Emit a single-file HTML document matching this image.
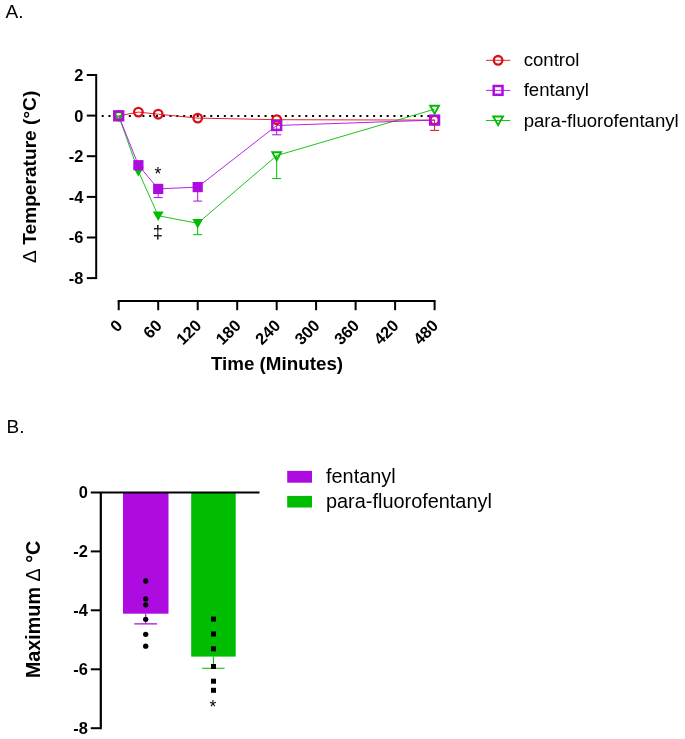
<!DOCTYPE html>
<html lang="en"><head><meta charset="utf-8"><title>Figure</title>
<style>html,body{margin:0;padding:0;background:#fff}body{width:685px;height:739px;overflow:hidden}svg{display:block;filter:blur(0.4px)}text{font-family:"Liberation Sans",Arial,sans-serif;fill:#000}.b{font-weight:bold}</style></head><body>
<svg width="685" height="739" viewBox="0 0 685 739">
<rect width="685" height="739" fill="#fff"/>
<text x="5.5" y="18.2" font-size="19">A.</text>
<text x="6.5" y="432.8" font-size="19">B.</text>
<g stroke="#000" stroke-width="2" fill="none" stroke-linecap="butt">
<path d="M96.2 74.0V279.1"/>
<path d="M86.8 75.0H96.2"/>
<path d="M86.8 115.6H96.2"/>
<path d="M86.8 156.2H96.2"/>
<path d="M86.8 196.9H96.2"/>
<path d="M86.8 237.5H96.2"/>
<path d="M86.8 278.1H96.2"/>
<path d="M117.7 301H435.6"/>
<path d="M118.7 301V310.2"/>
<path d="M158.2 301V310.2"/>
<path d="M197.7 301V310.2"/>
<path d="M237.2 301V310.2"/>
<path d="M276.7 301V310.2"/>
<path d="M316.1 301V310.2"/>
<path d="M355.6 301V310.2"/>
<path d="M395.1 301V310.2"/>
<path d="M434.6 301V310.2"/>
</g>
<text class="b" x="83.3" y="80.9" font-size="16.4" text-anchor="end">2</text>
<text class="b" x="83.3" y="121.5" font-size="16.4" text-anchor="end">0</text>
<text class="b" x="83.3" y="162.1" font-size="16.4" text-anchor="end">-2</text>
<text class="b" x="83.3" y="202.8" font-size="16.4" text-anchor="end">-4</text>
<text class="b" x="83.3" y="243.4" font-size="16.4" text-anchor="end">-6</text>
<text class="b" x="83.3" y="284.0" font-size="16.4" text-anchor="end">-8</text>
<text class="b" font-size="16.4" text-anchor="end" transform="translate(123.4 326.5) rotate(-45)">0</text>
<text class="b" font-size="16.4" text-anchor="end" transform="translate(162.9 326.5) rotate(-45)">60</text>
<text class="b" font-size="16.4" text-anchor="end" transform="translate(202.4 326.5) rotate(-45)">120</text>
<text class="b" font-size="16.4" text-anchor="end" transform="translate(241.9 326.5) rotate(-45)">180</text>
<text class="b" font-size="16.4" text-anchor="end" transform="translate(281.4 326.5) rotate(-45)">240</text>
<text class="b" font-size="16.4" text-anchor="end" transform="translate(320.8 326.5) rotate(-45)">300</text>
<text class="b" font-size="16.4" text-anchor="end" transform="translate(360.3 326.5) rotate(-45)">360</text>
<text class="b" font-size="16.4" text-anchor="end" transform="translate(399.8 326.5) rotate(-45)">420</text>
<text class="b" font-size="16.4" text-anchor="end" transform="translate(439.3 326.5) rotate(-45)">480</text>
<text class="b" font-size="18.8" text-anchor="middle" x="277" y="370.4">Time (Minutes)</text>
<text class="b" font-size="19.15" text-anchor="middle" transform="translate(36.2 176.8) rotate(-90)"><tspan font-weight="normal">Δ</tspan> Temperature (°C)</text>
<path d="M101.7 115.9H430" stroke="#000" stroke-width="2" stroke-dasharray="2 4.785" fill="none"/>
<path d="M276.7 119.7V121.8M272.2 121.8H281.2" fill="none" stroke="#DC0F18" stroke-width="1"/>
<path d="M434.6 120.1V130.4M430.1 130.4H439.1" fill="none" stroke="#DC0F18" stroke-width="1"/>
<polyline points="118.7,115.8 138.4,112.1 158.2,114.2 197.7,118.1 276.7,119.7 434.6,120.1" fill="none" stroke="#DC0F18" stroke-width="0.9"/>
<circle cx="118.7" cy="115.8" r="4.3" fill="none" stroke="#DC0F18" stroke-width="2.3"/>
<circle cx="138.4" cy="112.1" r="4.3" fill="none" stroke="#DC0F18" stroke-width="2.3"/>
<circle cx="158.2" cy="114.2" r="4.3" fill="none" stroke="#DC0F18" stroke-width="2.3"/>
<circle cx="197.7" cy="118.1" r="4.3" fill="none" stroke="#DC0F18" stroke-width="2.3"/>
<circle cx="276.7" cy="119.7" r="4.3" fill="none" stroke="#DC0F18" stroke-width="2.3"/>
<circle cx="434.6" cy="120.1" r="4.3" fill="none" stroke="#DC0F18" stroke-width="2.3"/>
<path d="M197.7 223.3V234.7M193.2 234.7H202.2" fill="none" stroke="#01BD01" stroke-width="1"/>
<path d="M276.7 155.6V178.6M272.2 178.6H281.2" fill="none" stroke="#01BD01" stroke-width="1"/>
<polyline points="118.7,115.8 138.4,171.4 158.2,215.7 197.7,223.3 276.7,155.6 434.6,109.2" fill="none" stroke="#01BD01" stroke-width="0.9"/>
<path d="M114.3 112.4H123.1L118.7 120.4Z" fill="none" stroke="#01BD01" stroke-width="1.9" stroke-linejoin="miter"/>
<path d="M133.0 167.2H143.8L138.4 176.6Z" fill="#01BD01"/>
<path d="M152.8 211.5H163.6L158.2 220.9Z" fill="#01BD01"/>
<path d="M192.3 219.1H203.1L197.7 228.5Z" fill="#01BD01"/>
<path d="M272.3 152.2H281.1L276.7 160.2Z" fill="none" stroke="#01BD01" stroke-width="1.9" stroke-linejoin="miter"/>
<path d="M430.2 105.8H439.0L434.6 113.8Z" fill="none" stroke="#01BD01" stroke-width="1.9" stroke-linejoin="miter"/>
<path d="M158.2 188.9V197.6M153.7 197.6H162.7" fill="none" stroke="#AE0BE1" stroke-width="1"/>
<path d="M197.7 187.1V201.1M193.2 201.1H202.2" fill="none" stroke="#AE0BE1" stroke-width="1"/>
<path d="M276.7 125.5V134.8M272.2 134.8H281.2" fill="none" stroke="#AE0BE1" stroke-width="1"/>
<polyline points="118.7,115.8 138.4,165.2 158.2,188.9 197.7,187.1 276.7,125.5 434.6,120.1" fill="none" stroke="#AE0BE1" stroke-width="0.9"/>
<rect x="114.3" y="111.4" width="8.8" height="8.8" fill="none" stroke="#AE0BE1" stroke-width="2.5"/>
<rect x="133.3" y="160.1" width="10.2" height="10.2" fill="#AE0BE1"/>
<rect x="153.1" y="183.8" width="10.2" height="10.2" fill="#AE0BE1"/>
<rect x="192.6" y="182.0" width="10.2" height="10.2" fill="#AE0BE1"/>
<rect x="272.3" y="121.1" width="8.8" height="8.8" fill="none" stroke="#AE0BE1" stroke-width="2.5"/>
<rect x="430.2" y="115.7" width="8.8" height="8.8" fill="none" stroke="#AE0BE1" stroke-width="2.5"/>
<text x="157.8" y="180.1" font-size="17.5" text-anchor="middle">*</text>
<text x="157.8" y="238.3" font-size="18.3" text-anchor="middle">‡</text>
<path d="M486 60.3H510.3" stroke="#DC0F18" stroke-width="0.9" fill="none"/>
<circle cx="498.1" cy="60.3" r="4.3" fill="none" stroke="#DC0F18" stroke-width="2.3"/>
<text x="523.7" y="66.3" font-size="18.6">control</text>
<path d="M486 90.4H510.3" stroke="#AE0BE1" stroke-width="0.9" fill="none"/>
<rect x="493.7" y="86.0" width="8.8" height="8.8" fill="none" stroke="#AE0BE1" stroke-width="2.5"/>
<text x="523.7" y="96.4" font-size="18.6">fentanyl</text>
<path d="M486 120.5H510.3" stroke="#01BD01" stroke-width="0.9" fill="none"/>
<path d="M493.2 116.5H503.0L498.1 125.1Z" fill="none" stroke="#01BD01" stroke-width="1.9"/>
<text x="523.7" y="126.5" font-size="18.6">para-fluorofentanyl</text>
<rect x="123" y="492.5" width="45.5" height="121.2" fill="#AE0BE1"/>
<rect x="191.2" y="492.5" width="44.5" height="164.1" fill="#01BD01"/>
<path d="M145.7 613.7V623.9M134.3 623.9H157.1" stroke="#AE0BE1" stroke-width="1.1" fill="none"/>
<path d="M213.4 656.6V668.2M202 668.2H224.6" stroke="#01BD01" stroke-width="1.1" fill="none"/>
<g stroke="#000" stroke-width="2" fill="none" stroke-linecap="butt">
<path d="M90.8 492.5H259.5"/>
<path d="M100.8 492.5V729.2" stroke-width="2.2"/>
<path d="M90.8 551.4H100.8"/>
<path d="M90.8 610.3H100.8"/>
<path d="M90.8 669.3H100.8"/>
<path d="M90.8 728.2H100.8"/>
</g>
<text class="b" x="87.8" y="498.2" font-size="16.4" text-anchor="end">0</text>
<text class="b" x="87.8" y="557.1" font-size="16.4" text-anchor="end">-2</text>
<text class="b" x="87.8" y="616.0" font-size="16.4" text-anchor="end">-4</text>
<text class="b" x="87.8" y="675.0" font-size="16.4" text-anchor="end">-6</text>
<text class="b" x="87.8" y="733.9" font-size="16.4" text-anchor="end">-8</text>
<text class="b" font-size="19.75" text-anchor="middle" transform="translate(39.6 609.4) rotate(-90)">Maximum <tspan font-weight="normal">Δ</tspan> °C</text>
<circle cx="145.7" cy="581" r="2.65" fill="#000"/>
<circle cx="145.7" cy="599" r="2.65" fill="#000"/>
<circle cx="145.7" cy="604.8" r="2.65" fill="#000"/>
<circle cx="145.7" cy="619.3" r="2.65" fill="#000"/>
<circle cx="145.7" cy="634.3" r="2.65" fill="#000"/>
<circle cx="145.7" cy="646.2" r="2.65" fill="#000"/>
<rect x="211.0" y="616.6" width="5" height="5" fill="#000"/>
<rect x="211.0" y="631.5" width="5" height="5" fill="#000"/>
<rect x="211.0" y="646.3" width="5" height="5" fill="#000"/>
<rect x="211.0" y="664.0" width="5" height="5" fill="#000"/>
<rect x="211.0" y="678.7" width="5" height="5" fill="#000"/>
<rect x="211.0" y="687.8" width="5" height="5" fill="#000"/>
<text x="212.9" y="713.0" font-size="17.5" text-anchor="middle">*</text>
<rect x="287.2" y="470.9" width="24.8" height="11.8" fill="#AE0BE1"/>
<rect x="287.2" y="495.9" width="24.8" height="11.6" fill="#01BD01"/>
<text x="326" y="482.8" font-size="19.9">fentanyl</text>
<text x="326" y="507.8" font-size="19.9">para-fluorofentanyl</text>
</svg></body></html>
